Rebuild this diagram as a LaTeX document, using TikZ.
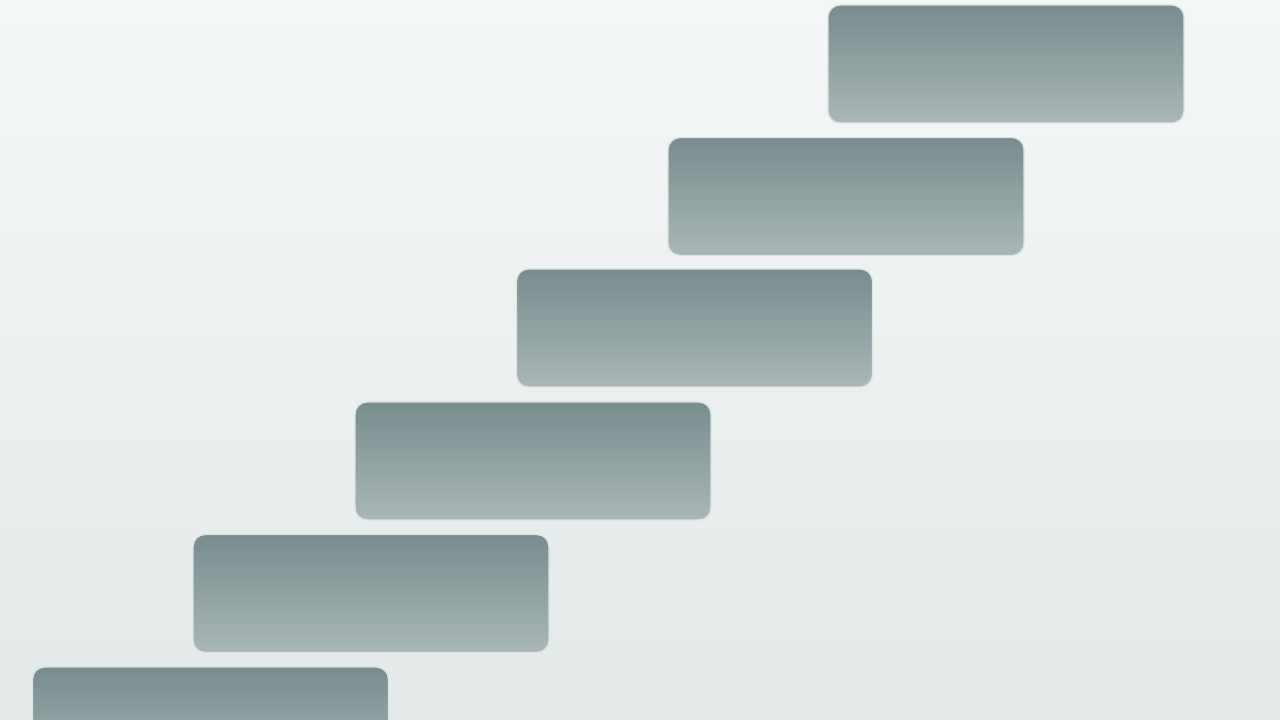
\documentclass[tikz,border=0pt]{standalone}
\usepackage{xcolor}
\usepackage{tikz}
\usetikzlibrary{positioning}

\definecolor{bgtop}{HTML}{F4F7F7}
\definecolor{bgbottom}{HTML}{E3EAE9}
\definecolor{steptop}{HTML}{788C8E}
\definecolor{stepbottom}{HTML}{AAB7B6}

\begin{document}
\begin{tikzpicture}[
    stepbox/.style={
        rectangle,
        draw=white!60!stepbottom,
        line width=0.4pt,
        minimum width=3.56cm,
        minimum height=1.18cm,
        rounded corners=0.12cm,
        top color=steptop,
        bottom color=stepbottom,
        inner sep=0pt
    }]

    % Background
    \useasboundingbox (0,0) rectangle (12.8,7.2);
    \clip (0,0) rectangle (12.8,7.2);
    \shade[top color=bgtop, bottom color=bgbottom] (0,0) rectangle (12.8,7.2);

    % Staircase steps
    \node[stepbox] (stepsix) at (2.105,-0.06) {};
    \node[stepbox] (stepfive) at (3.71,1.265) {};
    \node[stepbox] (stepfour) at (5.33,2.59) {};
    \node[stepbox] (stepthree) at (6.945,3.92) {};
    \node[stepbox] (steptwo) at (8.46,5.235) {};
    \node[stepbox] (stepone) at (10.06,6.56) {};
\end{tikzpicture}
\end{document}
